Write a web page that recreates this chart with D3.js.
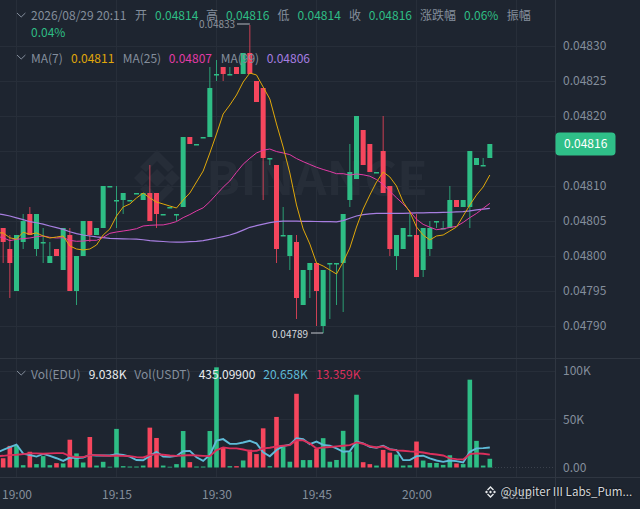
<!DOCTYPE html>
<html>
<head>
<meta charset="utf-8">
<script src="https://cdn.jsdelivr.net/npm/d3@7"></script>
<style>
html, body { margin: 0; padding: 0; background: #1e2530; overflow: hidden; }
text { font-family: "Noto Sans CJK SC", "Noto Sans", sans-serif; }
.axis .domain, .axis line { display: none; }
.axis text { fill: #848e9c; font-size: 12px; }
</style>
</head>
<body>
<svg id="chart" width="640" height="509"></svg>
<script>
// prices are in steps of 0.00001, first candle is 18:58
var open = [4804,4801,4795,4802,4806,4801,4802,4799,4801,4798,4803,4795,4800,4805,4803,4804,4810,4808,4808,4808,4809,4808,4809,4809,4806,4807,4806,4807,4817,4816,4817,4817,4826,4827,4826,4827,4826,4829,4825,4824,4814,4813,4803,4800,4802,4793,4798,4799,4790,4799,4799,4799,4808,4811,4818,4816,4812,4815,4810,4800,4801,4803,4803,4798,4801,4805,4804,4804,4808,4807,4807,4813,4813,4814];
var high = [4804,4803,4803,4806,4807,4806,4804,4802,4801,4804,4804,4800,4805,4805,4804,4810,4810,4810,4809,4808,4809,4809,4813,4809,4806,4807,4806,4817,4817,4816,4817,4827,4828,4827,4827,4827,4829,4833,4825,4824,4814,4813,4807,4803,4803,4798,4799,4799,4798,4799,4799,4806,4816,4820,4818,4816,4812,4820,4810,4803,4804,4806,4806,4804,4805,4805,4805,4810,4808,4808,4815,4814,4814,4816];
var low = [4799,4794,4795,4801,4803,4800,4799,4799,4800,4798,4795,4793,4800,4802,4803,4804,4810,4804,4806,4808,4809,4808,4805,4804,4806,4807,4805,4807,4816,4816,4817,4817,4825,4825,4826,4826,4826,4826,4822,4808,4813,4799,4803,4798,4791,4793,4794,4790,4789,4791,4793,4792,4807,4811,4813,4812,4812,4809,4800,4798,4801,4803,4797,4797,4800,4804,4804,4804,4807,4807,4804,4813,4813,4814];
var close = [4802,4799,4803,4805,4803,4806,4802,4800,4800,4804,4795,4800,4805,4803,4804,4810,4810,4808,4809,4808,4809,4809,4805,4806,4806,4807,4806,4817,4816,4816,4817,4824,4826,4826,4826,4826,4829,4826,4822,4814,4814,4801,4803,4803,4794,4798,4799,4795,4798,4799,4799,4806,4812,4820,4813,4812,4812,4809,4801,4803,4804,4803,4797,4804,4804,4805,4804,4808,4807,4808,4815,4814,4813,4816];
var volume = [9.6,22.4,22.7,2.4,16.3,3.5,11.8,2.4,4.5,4.2,28.8,14.6,5.2,31.6,2,5.9,0.8,40,1.4,1,1,2,41.3,30.6,2,0.8,3.5,37.8,5.6,1,1,37.8,103.8,20.5,1.4,1.4,7.3,18.4,13.9,40.6,1.4,52.4,21.2,6,76.4,7.7,7.7,19.5,30.4,6,7.8,38,16.5,75.4,5.5,3.5,2,18.2,15.4,13.4,2,2.3,26.9,7.2,4.7,4.7,2.7,12.7,4.2,3.5,91,27.6,2,9.038];

// moving averages start one minute earlier (18:57) so the lines reach the left edge
var ma7 = [4803.3,4803.3,4802.6,4802.4,4803.4,4803.1,4803.3,4802.86,4802.57,4802.71,4802.86,4801.43,4801,4800.86,4801,4801.57,4803,4803.86,4805.71,4807,4807.43,4808.29,4809,4808.29,4807.71,4807.43,4807.14,4806.86,4808,4809,4810.57,4812.14,4814.71,4817.43,4820.29,4821.57,4823,4824.86,4826.14,4825.86,4824.14,4822.43,4818.86,4815.57,4811.86,4807.29,4803.86,4801.71,4799,4798.57,4798,4797.43,4799.14,4801.14,4804.14,4806.71,4808.71,4810.57,4812,4811.29,4810,4807.71,4806.29,4804.14,4803,4802.29,4802.86,4803,4803.57,4804.14,4805.71,4807.29,4808.71,4809.86,4811.57];
var ma25 = [4802.8,4802.62,4802.19,4802.38,4802.48,4802.57,4802.76,4802.86,4802.67,4802.57,4802.62,4802.24,4802.1,4802.14,4802.24,4802.24,4802.67,4803.24,4803.43,4803.57,4803.71,4803.9,4804.29,4804.38,4804.43,4804.44,4804.64,4804.92,4805.48,4805.92,4806.44,4806.88,4807.76,4808.8,4809.84,4810.72,4811.96,4813.12,4813.96,4814.72,4815.12,4815.28,4814.92,4814.72,4814.48,4813.92,4813.48,4813.08,4812.68,4812.36,4812.08,4811.76,4811.76,4811.56,4811.72,4811.6,4811.4,4810.92,4810.24,4809.24,4808.32,4807.44,4806.4,4805.24,4804.52,4804.12,4803.76,4803.88,4804.08,4804.24,4804.8,4805.48,4806.08,4806.8,4807.52];
var ma99 = [4806.1,4805.9,4805.71,4805.45,4805.2,4804.9,4804.75,4804.55,4804.29,4804.05,4803.8,4803.47,4803.2,4803,4802.86,4802.72,4802.62,4802.52,4802.49,4802.46,4802.43,4802.4,4802.32,4802.19,4802.13,4802.07,4802,4801.97,4801.98,4802.05,4802.1,4802.2,4802.38,4802.57,4802.78,4803,4803.3,4803.7,4804.1,4804.33,4804.55,4804.76,4804.9,4804.97,4805,4804.97,4804.95,4804.95,4804.93,4804.9,4804.9,4804.88,4805.05,4805.4,4805.72,4805.92,4806.03,4806.1,4806.1,4806.1,4806.1,4806.1,4806.12,4806.15,4806.17,4806.2,4806.2,4806.22,4806.25,4806.3,4806.35,4806.45,4806.6,4806.7,4806.81];
var volMaFast = [15.5,18.2,21,23.8,14.4,13,11.3,14.1,12,9.6,6.8,10.3,9.9,10.3,13,12.4,12.4,12.4,13.8,13,11.3,7.8,7.5,12,16.2,11.3,11,12,16.9,17.2,10.6,6.8,13,28,29.4,24.5,24.5,25.9,27.7,25,15.8,11.7,18.2,22.2,23.6,30.3,29.3,24.2,26.8,23.4,22.6,19.8,16.3,17,26.8,25,21.5,20.5,22.6,19,18,7.6,7.6,11.8,12.2,9.4,7.3,5.9,7.3,6.6,5.2,16.3,19.8,20.1,20.658];
var volMaSlow = [11.8,12.1,12.8,13.2,13.9,14.6,14.6,14.2,14.6,14.9,14.9,11.8,10.8,10.8,12.8,12.8,12.5,12.1,12.5,12.1,11.8,10.8,10.4,12.8,13.9,13.2,12.5,12.1,12.5,12.8,12.5,12.1,11.8,18,20.8,19.8,19.8,18.7,17,17.3,19.8,20.5,21.9,22.6,23.2,28.5,28.1,25,19.8,20.8,21.2,21.9,22.6,23.2,26,24.6,22.2,20.8,21.9,18.7,17.7,17.3,16.7,16.3,15.6,14.2,13.5,12.5,9.4,8.7,8.3,13.9,14.6,14.2,13.359];

var priceGrid = [4790,4795,4800,4805,4810,4815,4820,4825,4830];
var priceLabels = [4790,4795,4800,4805,4810,4820,4825,4830]; // 0.04815 sits under the price tag
var volTicks = [0,50,100];
var timeTicks = ["19:00","19:15","19:30","19:45","20:00","20:15"];
var lastPrice = 4816;

var green = "#2ebd85", red = "#f6465d", gray = "#848e9c";
var width = 640, height = 509, plotRight = 555;

var parseTime = d3.timeParse("%H:%M");
var fmtTime = d3.timeFormat("%H:%M");
var firstCandle = parseTime("18:58");
var firstMa = parseTime("18:57");

var x = d3.scaleTime().domain([parseTime("19:00"), parseTime("20:15")]).range([16.5, 516.5]);
var y = d3.scaleLinear().domain([4790, 4830]).range([326, 46]);
var yVol = d3.scaleLinear().domain([0, 100]).range([467.5, 371]);
var candleX = function (i) { return x(d3.timeMinute.offset(firstCandle, i)); };
var maX = function (i) { return x(d3.timeMinute.offset(firstMa, i)); };
var fmtPrice = function (d) { return (d / 100000).toFixed(5); };

var svg = d3.select("#chart");
svg.append("defs").append("clipPath").attr("id", "plot")
  .append("rect").attr("width", plotRight).attr("height", 477);

// grid
var grid = svg.append("g").attr("stroke", "#272e39").attr("stroke-width", 1).attr("shape-rendering", "crispEdges");
grid.selectAll(".gp").data(priceGrid).enter().append("line")
  .attr("x1", 0).attr("x2", plotRight).attr("y1", function (d) { return y(d); }).attr("y2", function (d) { return y(d); });
grid.selectAll(".gv").data(volTicks.slice(1)).enter().append("line")
  .attr("x1", 0).attr("x2", plotRight).attr("y1", function (d) { return yVol(d); }).attr("y2", function (d) { return yVol(d); });
grid.selectAll(".gt").data(timeTicks).enter().append("line")
  .attr("x1", function (d) { return x(parseTime(d)); }).attr("x2", function (d) { return x(parseTime(d)); })
  .attr("y1", 0).attr("y2", 477);

// panel separators
var sep = svg.append("g").attr("stroke", "#2f3641").attr("shape-rendering", "crispEdges");
sep.append("line").attr("x1", 555.5).attr("x2", 555.5).attr("y1", 0).attr("y2", height);
sep.append("line").attr("x1", 0).attr("x2", width).attr("y1", 358.5).attr("y2", 358.5);
sep.append("line").attr("x1", 0).attr("x2", width).attr("y1", 477.5).attr("y2", 477.5);

// watermark
var mark = svg.append("g").attr("fill", "#262d38");
var logo = mark.append("g").attr("transform", "translate(157,178)");
logo.append("path").attr("d", "M0,-9L9,0L0,9L-9,0Z");
logo.append("path").attr("d", "M-23,0L-15,-8L-7,0L-15,8Z");
logo.append("path").attr("d", "M23,0L15,-8L7,0L15,8Z");
logo.append("path").attr("d", "M0,-28L17,-11L11,-6L0,-17L-11,-6L-17,-11Z");
logo.append("path").attr("d", "M0,28L17,11L11,6L0,17L-11,6L-17,11Z");
mark.append("text").attr("x", 206).attr("y", 195).attr("font-size", 46).attr("font-weight", 700)
  .attr("textLength", 222).attr("lengthAdjust", "spacingAndGlyphs").text("BINANCE");

var plot = svg.append("g").attr("clip-path", "url(#plot)");

// candles
var colorOf = function (i) { return close[i] >= open[i] ? green : red; };
var bars = d3.range(open.length);
plot.append("g").selectAll("line").data(bars).enter().append("line")
  .attr("x1", candleX).attr("x2", candleX)
  .attr("y1", function (i) { return y(high[i]); }).attr("y2", function (i) { return y(low[i]); })
  .attr("stroke", colorOf).attr("stroke-width", 1).attr("stroke-opacity", 0.8);
plot.append("g").selectAll("rect").data(bars).enter().append("rect")
  .attr("x", function (i) { return candleX(i) - 2.5; }).attr("width", 5)
  .attr("y", function (i) { return y(Math.max(open[i], close[i])); })
  .attr("height", function (i) { return Math.max(1.5, Math.abs(y(open[i]) - y(close[i]))); })
  .attr("fill", colorOf);

// price moving averages
function drawMa(values, yScale, color, w) {
  var line = d3.line().x(function (d, i) { return maX(i); }).y(function (d) { return yScale(d); });
  plot.append("path").attr("d", line(values)).attr("fill", "none").attr("stroke", color).attr("stroke-width", w);
}
drawMa(ma99, y, "#a77ee0", 1.2);
drawMa(ma25, y, "#e23ba6", 1);
drawMa(ma7, y, "#e0a80a", 1);

// volume
plot.append("g").selectAll("rect").data(bars).enter().append("rect")
  .attr("x", function (i) { return candleX(i) - 2.3; }).attr("width", 4.6)
  .attr("y", function (i) { return yVol(volume[i]); })
  .attr("height", function (i) { return yVol(0) - yVol(volume[i]); })
  .attr("fill", colorOf);
drawMa(volMaFast, yVol, "#5fbcd8", 1.9);
drawMa(volMaSlow, yVol, "#dc2f5c", 1.9);
svg.append("line").attr("x1", 492).attr("x2", plotRight).attr("y1", yVol(0)).attr("y2", yVol(0))
  .attr("stroke", "#3a414c").attr("stroke-dasharray", "1 2");

// axes
svg.append("g").attr("class", "axis").attr("transform", "translate(555,0)")
  .call(d3.axisRight(y).tickValues(priceLabels).tickFormat(fmtPrice).tickSize(0).tickPadding(8));
svg.append("g").attr("class", "axis").attr("transform", "translate(555,0)")
  .call(d3.axisRight(yVol).tickValues(volTicks).tickFormat(function (d) { return d === 0 ? "0.00" : d + "K"; }).tickSize(0).tickPadding(8));
svg.append("g").attr("class", "axis").attr("transform", "translate(0,490)")
  .call(d3.axisBottom(x).tickValues(timeTicks.map(parseTime)).tickFormat(fmtTime).tickSize(0).tickPadding(0));

// last price tag
svg.append("rect").attr("x", 555.5).attr("y", y(lastPrice) - 11.5).attr("width", 60).attr("height", 23).attr("rx", 4).attr("fill", "#2fbf88");
svg.append("text").attr("x", 564).attr("y", y(lastPrice)).attr("dy", "0.35em").attr("font-size", 12).attr("fill", "#fff").text(fmtPrice(lastPrice));

// legends
function label(xp, yp, str, color, size) {
  return svg.append("text").attr("x", xp).attr("y", yp).attr("dy", "0.35em")
    .attr("font-size", size || 12).attr("fill", color).text(str);
}
function chevron(yp) {
  svg.append("path").attr("d", "M17," + (yp - 2) + "l4.2,4l4.2,-4").attr("fill", "none").attr("stroke", gray).attr("stroke-width", 1);
}
var up = "#2ebd85";
chevron(15);
label(31, 16, "2026/08/29 20:11", gray);
label(135, 16, "开", gray); label(155, 16, "0.04814", up);
label(206, 16, "高", gray); label(226, 16, "0.04816", up);
label(277.5, 16, "低", gray); label(297.5, 16, "0.04814", up);
label(349, 16, "收", gray); label(368.7, 16, "0.04816", up);
label(420, 16, "涨跌幅", gray); label(464, 16, "0.06%", up);
label(506.7, 16, "振幅", gray);
label(31, 32.5, "0.04%", up);

chevron(57);
label(31, 58.5, "MA(7)", gray); label(71, 58.5, "0.04811", "#e0a80a");
label(122.7, 58.5, "MA(25)", gray); label(168.7, 58.5, "0.04807", "#e23ba6");
label(220.7, 58.5, "MA(99)", gray); label(266.7, 58.5, "0.04806", "#a77ee0");

chevron(373);
label(31, 374.5, "Vol(EDU)", gray); label(88.7, 374.5, "9.038K", "#eaecef");
label(134.3, 374.5, "Vol(USDT)", gray); label(198.7, 374.5, "435.09900", "#eaecef");
label(263.3, 374.5, "20.658K", "#5fbcd8"); label(316, 374.5, "13.359K", "#dc2f5c");

// high / low markers
label(199, 24, "0.04833", "#8d939c", 10);
svg.append("line").attr("x1", 237).attr("x2", candleX(37)).attr("y1", y(4833) - 1).attr("y2", y(4833) - 1).attr("stroke", "#b4b9c0");
label(272, 334, "0.04789", "#d5d8dc", 10);
svg.append("line").attr("x1", 311).attr("x2", candleX(48)).attr("y1", y(4789)).attr("y2", y(4789)).attr("stroke", "#c4c8ce");

// share tag
var tag = svg.append("g").attr("transform", "translate(490.5,492)").attr("fill", "#e6e8ea");
tag.append("path").attr("d", "M0,-1.5L1.5,0L0,1.5L-1.5,0Z");
tag.append("path").attr("d", "M-5.5,0L-4,-1.5L-2.5,0L-4,1.5Z");
tag.append("path").attr("d", "M5.5,0L4,-1.5L2.5,0L4,1.5Z");
tag.append("path").attr("d", "M0,-6L3.5,-2.5L2.5,-1.5L0,-4L-2.5,-1.5L-3.5,-2.5Z");
tag.append("path").attr("d", "M0,6L3.5,2.5L2.5,1.5L0,4L-2.5,1.5L-3.5,2.5Z");
label(500.5, 492, "@Jupiter III Labs_Pum...", "#d4d7db", 11.6).style("text-shadow", "0 0 2px #000");
</script>
</body>
</html>
